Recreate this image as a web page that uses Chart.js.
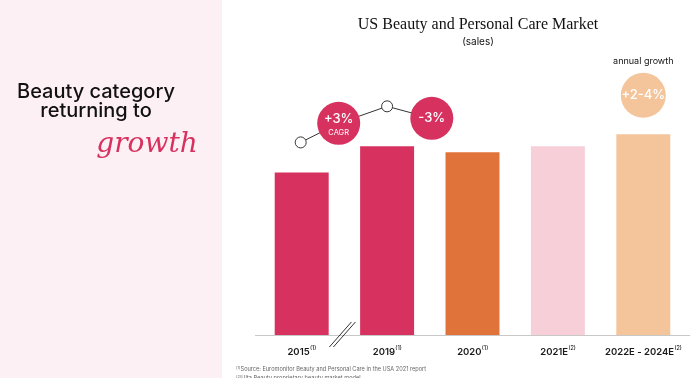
<!DOCTYPE html>
<html>
<head>
<meta charset="utf-8">
<script src="https://cdn.jsdelivr.net/npm/chart.js@4.4.1/dist/chart.umd.min.js"></script>
<style>
  html, body { margin: 0; padding: 0; background: #fff; }
  #wrap { position: relative; width: 700px; height: 378px; }
</style>
</head>
<body>
<div id="wrap"><canvas id="c" width="700" height="378"></canvas></div>
<script>
// data
var years = ['2015', '2019', '2020', '2021E', '2022E - 2024E'];
var notes = ['(1)', '(1)', '(1)', '(2)', '(2)'];
var sales = [81, 94, 91, 94, 100];
var barColors = ['#d7325f', '#d7325f', '#e07339', '#f7cfd9', '#f4c49b'];
var growthLabels = ['+3%', '-3%', '+2-4%'];
var footnotes = [
  ['(1)', 'Source: Euromonitor Beauty and Personal Care in the USA 2021 report'],
  ['(2)', 'Ulta Beauty proprietary beauty market model']
];

var SANS = 'Inter, "Noto Sans", sans-serif';

// left panel, title, labels, annotations
var decor = {
  id: 'decor',
  beforeDraw: function(chart) {
    var ctx = chart.ctx;
    ctx.save();
    ctx.fillStyle = '#fdf0f4';
    ctx.fillRect(0, 0, 222, chart.height);
    ctx.fillStyle = '#111';
    ctx.textAlign = 'center';
    ctx.textBaseline = 'alphabetic';
    ctx.font = '500 20px ' + SANS;
    ctx.fillText('Beauty category', 96, 98);
    ctx.fillText('returning to', 96, 117);
    ctx.fillStyle = '#d7325f';
    ctx.font = 'italic 28px "DejaVu Serif", serif';
    ctx.fillText('growth', 147, 152);
    ctx.restore();
  },
  afterDatasetsDraw: function(chart) {
    var ctx = chart.ctx;
    var xs = chart.scales.x, ys = chart.scales.y;
    var area = chart.chartArea;
    var px = function(i) { return xs.getPixelForValue(i); };
    var py = function(i) { return ys.getPixelForValue(sales[i]); };
    ctx.save();

    // title
    ctx.fillStyle = '#111';
    ctx.textAlign = 'center';
    ctx.textBaseline = 'middle';
    ctx.font = '16px "Liberation Serif", serif';
    ctx.fillText('US Beauty and Personal Care Market', 478, 25);
    ctx.font = '10px ' + SANS;
    ctx.fillText('(sales)', 478, 42);

    // baseline
    ctx.strokeStyle = '#c8c8c8';
    ctx.lineWidth = 1;
    ctx.beginPath();
    ctx.moveTo(area.left - 4, area.bottom + 0.5);
    ctx.lineTo(area.right + 4, area.bottom + 0.5);
    ctx.stroke();

    // axis break
    var bx = (px(0) + px(1)) / 2 - 1;
    ctx.strokeStyle = '#333';
    ctx.beginPath();
    [-2, 2].forEach(function(d) {
      ctx.moveTo(bx + d - 12, area.bottom + 12);
      ctx.lineTo(bx + d + 10, area.bottom - 13);
    });
    ctx.stroke();

    // category labels with superscript
    years.forEach(function(t, i) {
      ctx.font = '600 9.5px ' + SANS;
      var w1 = ctx.measureText(t).width;
      ctx.font = '500 5.5px ' + SANS;
      var w2 = ctx.measureText(notes[i]).width;
      var x0 = px(i) - (w1 + w2) / 2;
      ctx.fillStyle = '#1a1a1a';
      ctx.textAlign = 'left';
      ctx.textBaseline = 'alphabetic';
      ctx.font = '600 9.5px ' + SANS;
      ctx.fillText(t, x0, 355);
      ctx.font = '500 5.5px ' + SANS;
      ctx.fillText(notes[i], x0 + w1 + 0.3, 350);
    });

    // footnotes
    ctx.fillStyle = '#666';
    footnotes.forEach(function(f, i) {
      var y = 371 + i * 9;
      ctx.font = '4px ' + SANS;
      ctx.fillText(f[0], 236, y - 2);
      var w = ctx.measureText(f[0]).width;
      ctx.font = '5.6px ' + SANS;
      ctx.fillText(f[1], 236 + w, y);
    });

    // CAGR connector
    var p1 = { x: px(0) - 1, y: py(0) - 30 };
    var c1 = { x: px(0) + 37, y: py(1) - 23 };
    var p2 = { x: px(1), y: py(1) - 40 };
    var c2 = { x: (px(1) + px(2)) / 2 + 2, y: py(1) - 28 };
    ctx.strokeStyle = '#333';
    ctx.lineWidth = 1;
    ctx.beginPath();
    ctx.moveTo(p1.x, p1.y);
    ctx.lineTo(c1.x, c1.y);
    ctx.lineTo(p2.x, p2.y);
    ctx.lineTo(c2.x, c2.y);
    ctx.stroke();
    [p1, p2].forEach(function(p) {
      ctx.beginPath();
      ctx.arc(p.x, p.y, 5.5, 0, Math.PI * 2);
      ctx.fillStyle = '#fff';
      ctx.fill();
      ctx.stroke();
    });

    var bubble = function(c, r, color, label, sub) {
      ctx.beginPath();
      ctx.arc(c.x, c.y, r, 0, Math.PI * 2);
      ctx.fillStyle = color;
      ctx.fill();
      ctx.fillStyle = '#fff';
      ctx.textAlign = 'center';
      ctx.textBaseline = 'middle';
      ctx.font = '500 13px ' + SANS;
      ctx.fillText(label, c.x, sub ? c.y - 4 : c.y);
      if (sub) {
        ctx.font = '400 7.5px ' + SANS;
        ctx.fillText(sub, c.x, c.y + 9);
      }
    };
    bubble(c1, 21.5, barColors[0], growthLabels[0], 'CAGR');
    bubble(c2, 21.5, barColors[1], growthLabels[1]);
    var c3 = { x: px(4), y: py(4) - 39 };
    bubble(c3, 22.5, barColors[4], growthLabels[2]);
    ctx.fillStyle = '#111';
    ctx.font = '9px ' + SANS;
    ctx.fillText('annual growth', c3.x, c3.y - 34);

    ctx.restore();
  }
};

new Chart(document.getElementById('c'), {
  type: 'bar',
  data: {
    labels: years,
    datasets: [{
      data: sales,
      backgroundColor: barColors,
      borderWidth: 0,
      barPercentage: 0.632,
      categoryPercentage: 1
    }]
  },
  options: {
    responsive: false,
    animation: false,
    layout: { padding: { left: 259, right: 14, top: 54, bottom: 43 } },
    plugins: { legend: { display: false }, tooltip: { enabled: false }, title: { display: false } },
    scales: {
      x: { display: false },
      y: { display: false, min: 0, max: 140 }
    }
  },
  plugins: [decor]
});
</script>
</body>
</html>
